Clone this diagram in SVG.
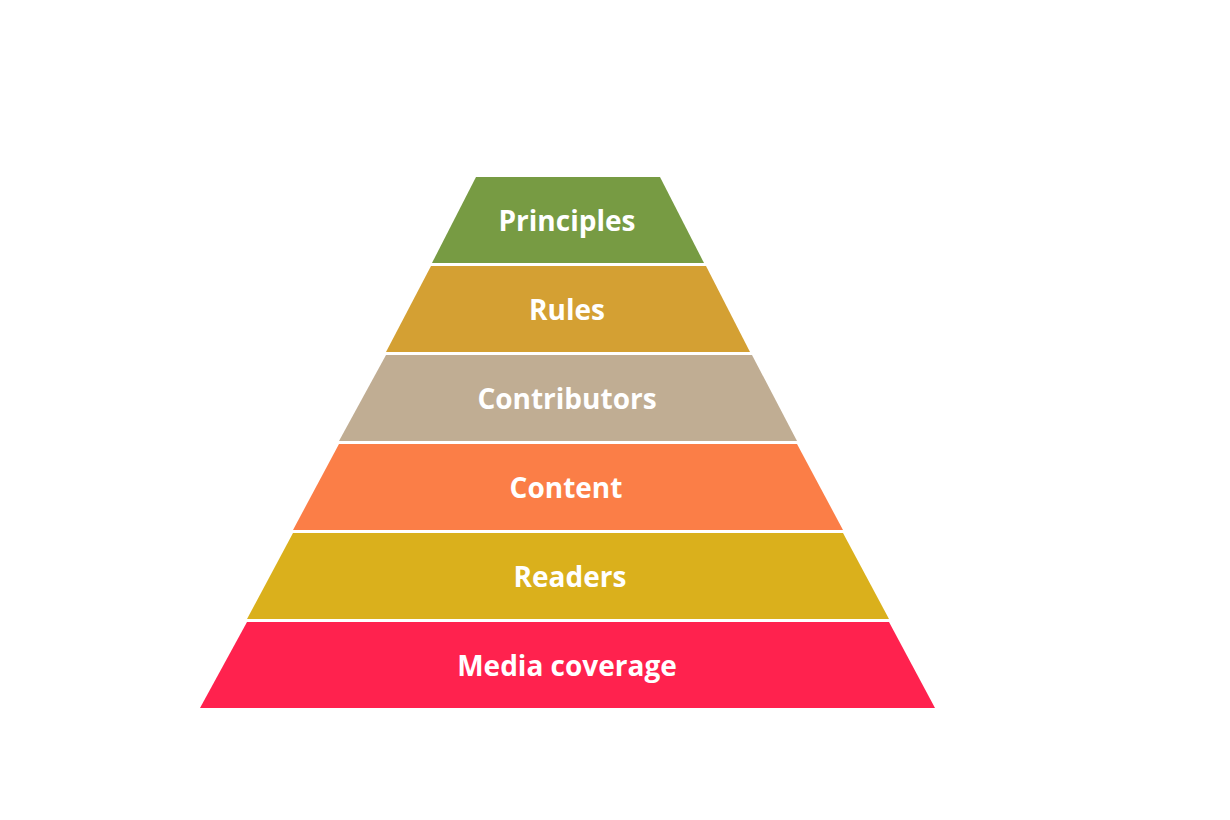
<svg xmlns="http://www.w3.org/2000/svg" width="1230" height="820" viewBox="0 0 1230 820">
<style>
text{font-family:"Open Sans","Liberation Sans",sans-serif;font-weight:bold;font-size:28px;fill:#fff;text-anchor:middle;dominant-baseline:central}
</style>
<rect width="1230" height="820" fill="#fff"/>
<g id="principles"><polygon points="476,177 660,177 704,263 432,263" fill="#779b43"/><text x="567" y="220">Principles</text></g>
<g id="rules"><polygon points="431,266 706,266 750,352 386,352" fill="#d4a033"/><text x="567" y="309">Rules</text></g>
<g id="contributors"><polygon points="386,355 752,355 797,441 339,441" fill="#c0ad93"/><text x="567" y="398">Contributors</text></g>
<g id="content"><polygon points="339,444 797,444 843,530 293,530" fill="#fb7e47"/><text x="566" y="487">Content</text></g>
<g id="readers"><polygon points="293,533 843,533 889,619 247,619" fill="#dab01c"/><text x="570" y="576">Readers</text></g>
<g id="media"><polygon points="247,622 889,622 935,708 200,708" fill="#ff224e"/><text x="567" y="665">Media coverage</text></g>
<g id="connectors"/>
</svg>
